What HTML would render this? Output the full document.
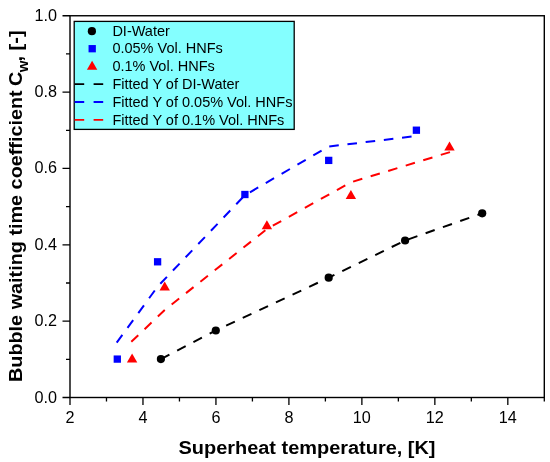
<!DOCTYPE html>
<html><head><meta charset="utf-8"><title>Bubble waiting time coefficient</title>
<style>html,body{margin:0;padding:0;background:#fff}svg{display:block}text{font-family:"Liberation Sans",Arial,sans-serif;fill:#000}</style>
</head><body>
<svg width="550" height="462" viewBox="0 0 550 462">
<rect width="550" height="462" fill="#fff"/>
<rect x="70.0" y="15.75" width="474.29999999999995" height="381.75" fill="none" stroke="#000" stroke-width="1.4"/>
<path d="M70.00 397.5v7.5M106.48 397.5v4M142.97 397.5v7.5M179.45 397.5v4M215.94 397.5v7.5M252.42 397.5v4M288.91 397.5v7.5M325.39 397.5v4M361.88 397.5v7.5M398.36 397.5v4M434.85 397.5v7.5M471.33 397.5v4M507.82 397.5v7.5M544.30 397.5v4M70.0 397.50h-7.5M70.0 359.32h-4M70.0 321.15h-7.5M70.0 282.98h-4M70.0 244.80h-7.5M70.0 206.62h-4M70.0 168.45h-7.5M70.0 130.28h-4M70.0 92.10h-7.5M70.0 53.93h-4M70.0 15.75h-7.5" stroke="#000" stroke-width="1.3" fill="none"/>
<g font-size="16.2px">
<text x="70.00" y="422.7" text-anchor="middle">2</text>
<text x="142.97" y="422.7" text-anchor="middle">4</text>
<text x="215.94" y="422.7" text-anchor="middle">6</text>
<text x="288.91" y="422.7" text-anchor="middle">8</text>
<text x="361.88" y="422.7" text-anchor="middle">10</text>
<text x="434.85" y="422.7" text-anchor="middle">12</text>
<text x="507.82" y="422.7" text-anchor="middle">14</text>
<text x="57.1" y="402.50" text-anchor="end">0.0</text>
<text x="57.1" y="326.15" text-anchor="end">0.2</text>
<text x="57.1" y="249.80" text-anchor="end">0.4</text>
<text x="57.1" y="173.45" text-anchor="end">0.6</text>
<text x="57.1" y="97.10" text-anchor="end">0.8</text>
<text x="57.1" y="20.75" text-anchor="end">1.0</text>
</g>
<text transform="translate(307.0 453.9) scale(1.039 1)" text-anchor="middle" font-size="19.2px" font-weight="bold">Superheat temperature, [K]</text>
<g font-size="19.2px" font-weight="bold">
<text transform="translate(22.0 382.0) rotate(-90) scale(1.0327 1)">Bubble waiting time coefficient</text>
<text transform="translate(22.0 86.0) rotate(-90) scale(1.03 1)">C</text>
<text transform="translate(27.6 72.2) rotate(-90) scale(1.04 1)" font-size="14.5px">w</text>
<text transform="translate(22.0 61.5) rotate(-90) scale(1.04 1)">, [-]</text>
</g>
<path d="M160.9 359.1 L215.8 330.5 L328.7 277.7 L405.1 240.5 L482.2 213.3" fill="none" stroke="#000" stroke-width="2" stroke-dasharray="9.6 8.73"/>
<path d="M116.7 342.7 L157.7 286.5 L244.9 195.2 L328.4 146.6 L416.4 136.0" fill="none" stroke="#0000ff" stroke-width="2" stroke-dasharray="9.6 8.73"/>
<path d="M131.3 341.8 L164.7 310.0 L266.9 229.0 L350.9 182.3 L450.0 152.1" fill="none" stroke="#ff0000" stroke-width="2" stroke-dasharray="9.6 8.73"/>
<circle cx="160.9" cy="359.1" r="4.1" fill="#000"/>
<circle cx="215.8" cy="330.5" r="4.1" fill="#000"/>
<circle cx="328.7" cy="277.7" r="4.1" fill="#000"/>
<circle cx="405.1" cy="240.5" r="4.1" fill="#000"/>
<circle cx="482.2" cy="213.3" r="4.1" fill="#000"/>
<rect x="113.65" y="355.45" width="7.3" height="7.3" fill="#0000ff"/>
<rect x="153.95" y="258.15" width="7.3" height="7.3" fill="#0000ff"/>
<rect x="241.25" y="190.85" width="7.3" height="7.3" fill="#0000ff"/>
<rect x="325.05" y="156.75" width="7.3" height="7.3" fill="#0000ff"/>
<rect x="412.75" y="126.55" width="7.3" height="7.3" fill="#0000ff"/>
<path d="M132.1 353.4l5.2 9h-10.4z" fill="#ff0000"/>
<path d="M164.7 281.6l5.2 9h-10.4z" fill="#ff0000"/>
<path d="M266.9 220.2l5.2 9h-10.4z" fill="#ff0000"/>
<path d="M350.9 190.0l5.2 9h-10.4z" fill="#ff0000"/>
<path d="M449.5 141.6l5.2 9h-10.4z" fill="#ff0000"/>
<rect x="74.2" y="21.4" width="220" height="108" fill="#84ffff" stroke="#000" stroke-width="1.3"/>
<g font-size="14.5px">
<text x="112.4" y="35.60">DI-Water</text>
<text x="112.4" y="53.40">0.05% Vol. HNFs</text>
<text x="112.4" y="71.20">0.1% Vol. HNFs</text>
<text x="112.4" y="89.00">Fitted Y of DI-Water</text>
<text x="112.4" y="106.80">Fitted Y of 0.05% Vol. HNFs</text>
<text x="112.4" y="124.60">Fitted Y of 0.1% Vol. HNFs</text>
</g>
<circle cx="91.9" cy="31.2" r="4.1" fill="#000"/>
<rect x="88.55" y="45.05" width="7.3" height="7.3" fill="#0000ff"/>
<path d="M92.1 60.8l5.2 9h-10.4z" fill="#ff0000"/>
<path d="M74.6 84.2H109" stroke="#000" stroke-width="1.8" stroke-dasharray="9.6 9.4" fill="none"/>
<path d="M74.6 102.0H109" stroke="#0000ff" stroke-width="1.8" stroke-dasharray="9.6 9.4" fill="none"/>
<path d="M74.6 119.8H109" stroke="#ff0000" stroke-width="1.8" stroke-dasharray="9.6 9.4" fill="none"/>
</svg></body></html>
